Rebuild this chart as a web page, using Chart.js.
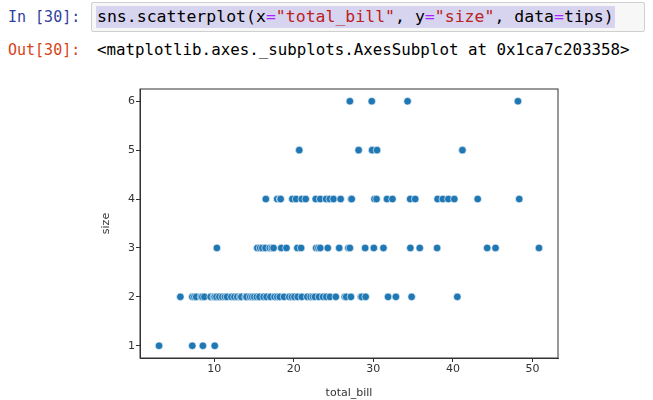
<!DOCTYPE html>
<html><head><meta charset="utf-8">
<script src="https://cdn.jsdelivr.net/npm/chart.js@4"></script>
<style>
body{margin:0;background:#fff;width:653px;height:400px;position:relative;overflow:hidden;font-family:"DejaVu Sans Mono",monospace}
.prompt{position:absolute;left:8px;font-size:15px}
#inp{top:8px;color:#303F9F}
#outp{top:41px;color:#D84315}
#code{position:absolute;left:91px;top:2px;width:552px;height:28px;background:#f7f7f7;border:1px solid #cfcfcf;border-radius:2px}
#code span.sel{position:absolute;left:4px;top:3px;background:#d7d4f0;font-size:16.5px;line-height:22px;padding:0 1px;color:#000;white-space:nowrap}
.s{color:#ba2121}.o{color:#aa22ff}
#out{position:absolute;left:97px;top:40px;font-size:15.8px;color:#000;white-space:nowrap}
#wrap{position:absolute;left:100px;top:80px;width:470px;height:320px}
</style></head><body>
<div class="prompt" id="inp">In [30]:</div>
<div id="code"><span class="sel">sns.scatterplot(x<span class="o">=</span><span class="s">"total_bill"</span>, y<span class="o">=</span><span class="s">"size"</span>, data<span class="o">=</span>tips)</span></div>
<div class="prompt" id="outp">Out[30]:</div>
<div id="out">&lt;matplotlib.axes._subplots.AxesSubplot at 0x1ca7c203358&gt;</div>
<div id="wrap"><canvas id="c"></canvas></div>
<script>
const bills6 = [27.05, 29.8, 34.3, 48.17];
const bills5 = [20.69, 28.15, 29.85, 30.46, 41.19];
const bills4 = [16.49, 17.92, 18.29, 18.35, 19.82, 20.29, 21.01, 21.5, 22.76, 23.33, 24.06, 24.52, 25.0, 25.89, 27.2, 27.28, 30.14, 30.4, 31.71, 32.4, 34.63, 35.26, 38.07, 38.73, 39.42, 40.17, 43.11, 48.33];
const bills3 = [10.34, 15.42, 15.77, 16.04, 16.45, 16.99, 17.26, 17.46, 18.43, 19.08, 20.45, 20.92, 22.82, 23.1, 23.33, 24.27, 25.71, 26.86, 27.05, 28.97, 30.06, 31.27, 34.65, 35.83, 38.01, 44.3, 45.35, 50.81];
const bills2 = [5.75, 7.25, 7.51, 7.74, 8.35, 8.51, 8.77, 9.55, 9.94, 10.07, 10.29, 10.65, 11.02, 11.35, 11.61, 12.16, 12.54, 12.9, 13.27, 13.42, 13.94, 14.07, 14.52, 14.78, 15.04, 15.36, 15.69, 16.21, 16.58, 17.07, 17.59, 17.92, 18.24, 18.78, 19.44, 19.77, 20.08, 20.49, 21.01, 21.7, 22.12, 22.42, 22.67, 23.17, 23.68, 24.08, 24.55, 25.28, 26.41, 26.59, 27.18, 28.44, 28.55, 29.03, 31.85, 32.83, 34.81, 40.55];
const bills1 = [3.07, 7.25, 8.58, 10.07];
const xTicks = [10, 20, 30, 40, 50];
const yTicks = [1, 2, 3, 4, 5, 6];

const groups = [[1, bills1], [2, bills2], [3, bills3], [4, bills4], [5, bills5], [6, bills6]];
const points = [];
groups.forEach(([size, bills]) => bills.forEach(b => points.push({x: b, y: size})));

const tickFont = {family: "DejaVu Sans", size: 11};
const axisGrid = {display: true, drawOnChartArea: false, drawTicks: true, tickLength: 4, color: "#333"};
new Chart(document.getElementById("c"), {
  type: "scatter",
  data: {datasets: [{
    data: points,
    backgroundColor: "#1f77b4",
    borderColor: "#ffffff",
    borderWidth: 0.6,
    pointRadius: 3.8
  }]},
  options: {
    animation: false,
    responsive: true,
    maintainAspectRatio: false,
    layout: {padding: {top: 9, right: 12}},
    plugins: {legend: {display: false}, tooltip: {enabled: false}},
    scales: {
      x: {
        min: 0.68, max: 53.2,
        afterBuildTicks: s => { s.ticks = xTicks.map(v => ({value: v})); },
        ticks: {color: "#333", font: tickFont, padding: 1},
        grid: axisGrid,
        border: {color: "#333", width: 1},
        title: {display: true, text: "total_bill", color: "#333", font: tickFont, padding: 0},
        afterFit: s => { s.height = 42; }
      },
      y: {
        min: 0.75, max: 6.25,
        afterBuildTicks: s => { s.ticks = yTicks.map(v => ({value: v})); },
        ticks: {color: "#333", font: tickFont, padding: 1},
        grid: axisGrid,
        border: {color: "#333", width: 1},
        title: {display: true, text: "size", color: "#333", font: tickFont, padding: 0},
        afterFit: s => { s.width = 40; }
      }
    }
  },
  plugins: [{
    id: "frame",
    afterDraw(chart) {
      const {ctx, chartArea: a} = chart;
      ctx.save();
      ctx.strokeStyle = "#333";
      ctx.lineWidth = 1;
      ctx.strokeRect(a.left, a.top, a.right - a.left, a.bottom - a.top);
      ctx.restore();
    }
  }]
});
</script>
</body></html>
